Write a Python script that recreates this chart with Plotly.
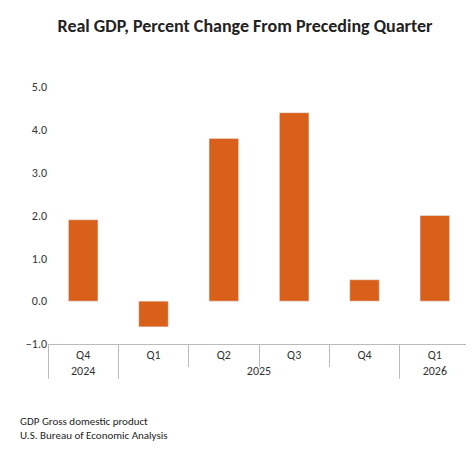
import plotly.graph_objects as go

years = ["2024", "2025", "2025", "2025", "2025", "2026"]
# zero-width space keeps the repeated quarter labels distinct so Plotly keeps the order
quarters = ["Q4", "Q1", "Q2", "Q3", "Q4\u200b", "Q1\u200b"]
values = [1.9, -0.6, 3.8, 4.4, 0.5, 2.0]
y_ticks = [-1.0, 0.0, 1.0, 2.0, 3.0, 4.0, 5.0]

font = "Calibri, Carlito, Liberation Sans, sans-serif"

fig = go.Figure(go.Bar(
    x=[years, quarters],
    y=values,
    marker_color="#D9601A",
    width=0.42,
))

fig.update_layout(
    width=474, height=450,
    margin=dict(l=40, r=12, t=79, b=114),
    paper_bgcolor="white", plot_bgcolor="white",
    font=dict(family=font, size=12, color="#333333"),
    title=dict(text="<b>Real GDP, Percent Change From Preceding Quarter</b>",
               x=0.5, xanchor="center", y=0.975, yanchor="top",
               font=dict(size=18, color="#222222")),
    showlegend=False,
    annotations=[
        dict(text="GDP Gross domestic product<br>U.S. Bureau of Economic Analysis",
             xref="paper", yref="paper", x=-0.07, y=-0.27, xanchor="left",
             yanchor="top", showarrow=False, align="left",
             font=dict(size=11, color="#222222")),
    ],
)
fig.update_yaxes(range=[-1, 5], tickvals=y_ticks,
                 ticktext=["%.1f" % v if v >= 0 else "\u2212%.1f" % -v for v in y_ticks],
                 showgrid=False, zeroline=False, showline=False)
fig.update_xaxes(showline=True, linecolor="#BBBBBB", showdividers=True,
                 dividercolor="#BBBBBB", tickson="boundaries", ticks="outside",
                 tickcolor="#BBBBBB", ticklen=22, showgrid=False)

fig.write_html("out.html")
